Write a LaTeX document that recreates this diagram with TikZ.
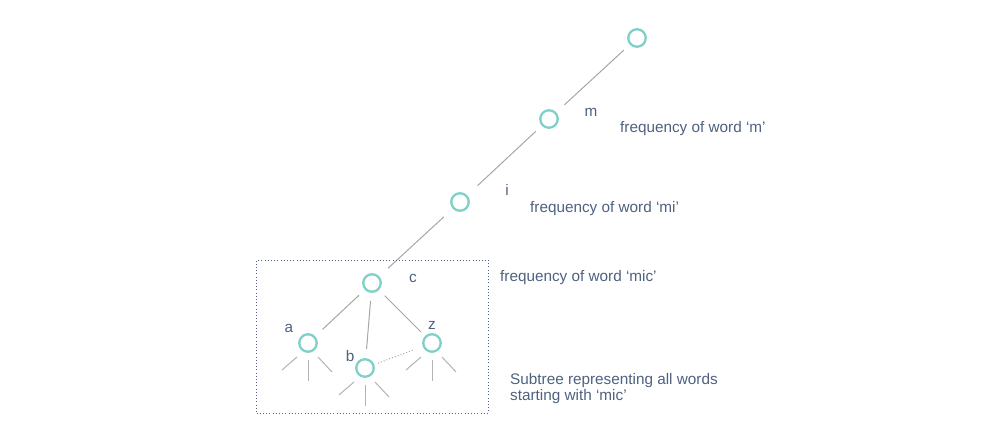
\documentclass[tikz,border=0pt]{standalone}
\usepackage{fontspec}
\setmainfont{Liberation Sans}
\definecolor{teal1}{HTML}{7FD0C8}
\definecolor{txt}{HTML}{4E6180}
\definecolor{ln}{HTML}{A6A6A6}
\begin{document}
\begin{tikzpicture}[x=1pt,y=-1pt,
  tnode/.style={circle,draw=teal1,line width=2.3pt,minimum size=17.5pt,inner sep=0pt},
  edge/.style={draw=ln,line width=1pt},
  lab/.style={text=txt,font=\fontsize{15.3}{17}\selectfont,inner sep=0pt,anchor=west},
  stub/.style={draw=ln!85,line width=1pt}]
\useasboundingbox (0,0) rectangle (1000,441);
\node[tnode] (r) at (637,38) {};
\node[tnode] (m) at (549,119) {};
\node[tnode] (i) at (460,202) {};
\node[tnode] (c) at (372,283) {};
\node[tnode] (a) at (308,343) {};
\node[tnode] (b) at (365,368) {};
\node[tnode] (z) at (432,343) {};
\draw[edge,shorten <=8pt,shorten >=11pt] (r) -- (m);
\draw[edge,shorten <=8pt,shorten >=14pt] (m) -- (i);
\draw[edge,shorten <=12pt,shorten >=12pt] (i) -- (c);
\draw[edge,shorten <=8pt,shorten >=10pt] (c) -- (a);
\draw[edge,shorten <=8pt,shorten >=9pt] (c) -- (b);
\draw[edge,shorten <=8pt,shorten >=6pt] (c) -- (z);
\draw[edge,dotted,shorten <=4pt,shorten >=9pt] (b) -- (z);
% stubs
\foreach \n in {a,b,z}{
  \coordinate (\n l1) at ([shift={(-11,14)}]\n);
  \coordinate (\n l2) at ([shift={(-26,27)}]\n);
  \coordinate (\n m1) at ([shift={(0,17)}]\n);
  \coordinate (\n m2) at ([shift={(0,38)}]\n);
  \coordinate (\n r1) at ([shift={(10,14)}]\n);
  \coordinate (\n r2) at ([shift={(24,29)}]\n);
  \draw[stub] (\n l1) -- (\n l2);
  \draw[stub] (\n m1) -- (\n m2);
  \draw[stub] (\n r1) -- (\n r2);
}
\node[draw=txt,dash pattern=on 1pt off 2.2pt,line width=1.1pt,minimum width=232pt,minimum height=153pt,anchor=north west,inner sep=0pt] (box) at (256,259.5) {};
\node[lab,anchor=center] (lm) at (591,112) {m};
\node[lab] (fm) at (620,129) {frequency of word ‘m’};
\node[lab,anchor=center] (li) at (507,190) {i};
\node[lab] (fi) at (530,209) {frequency of word ‘mi’};
\node[lab,anchor=center] (lc) at (413,278) {c};
\node[lab] (fc) at (500,278) {frequency of word ‘mic’};
\node[lab,anchor=center] (la) at (289,328) {a};
\node[lab,anchor=center] (lb) at (350,356) {b};
\node[lab,anchor=center] (lz) at (432,325) {z};
\node[lab,align=left,anchor=north west,font=\fontsize{15.3}{16.5}\selectfont] (sub) at (510,373) {Subtree representing all words\\starting with ‘mic’};
\end{tikzpicture}
\end{document}
